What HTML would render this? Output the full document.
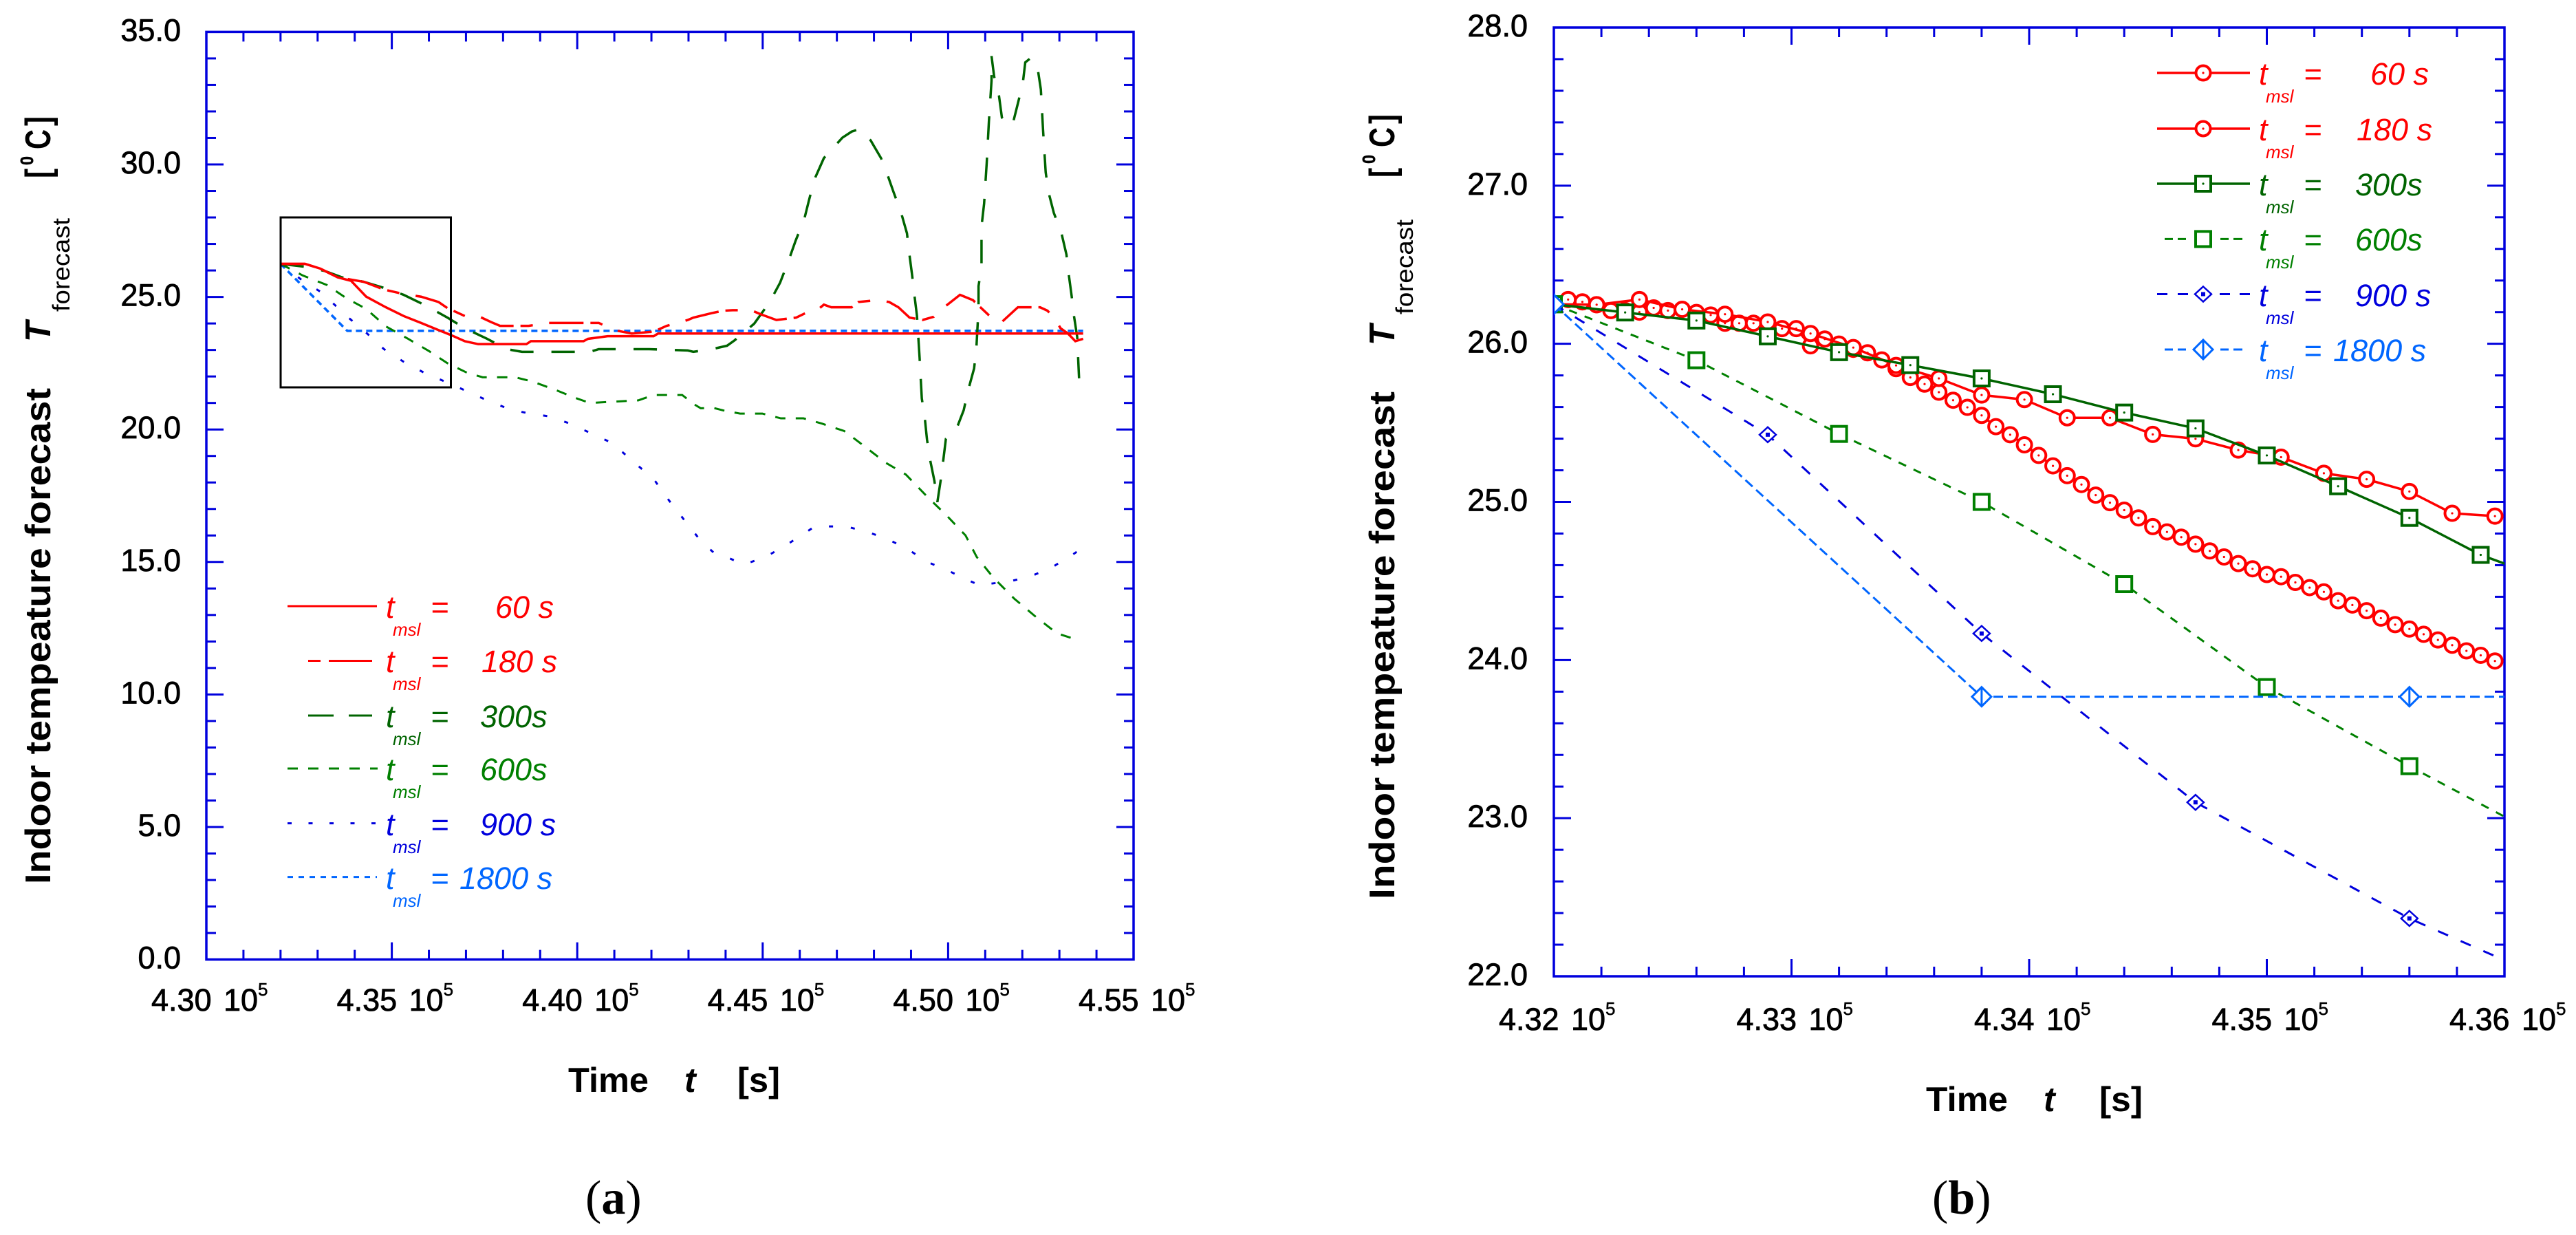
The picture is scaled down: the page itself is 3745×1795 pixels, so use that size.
<!DOCTYPE html>
<html lang="en">
<head>
<meta charset="utf-8">
<title>Indoor temperature forecast charts</title>
<style>
html,body{margin:0;padding:0;background:#fff;width:3745px;height:1795px;overflow:hidden}
svg{display:block}
text{font-family:"Liberation Sans",sans-serif;fill:#000}
.tick{font-size:45px;stroke:#000;stroke-width:.8px}
.sup{font-size:26px;stroke:#000;stroke-width:.5px}
.title{font-size:52px;font-weight:bold}
.xt{font-size:50px;font-weight:bold}
.sub{font-size:35px}
.cap{font-family:"Liberation Serif",serif;font-size:70px}
.lg{font-size:45px;font-style:italic}
.ms{font-size:26px;font-style:italic}
</style>
</head>
<body>
<svg id="fig" xmlns="http://www.w3.org/2000/svg" width="3745" height="1795" viewBox="0 0 3745 1795">
<rect width="3745" height="1795" fill="#fff"/>
<defs>
<clipPath id="clip-b"><rect x="2259" y="40" width="1382" height="1379"/></clipPath>
</defs>

<!-- Panel A titles -->
<g>
<text class="title" transform="translate(73,1285) rotate(-90)" textLength="721" lengthAdjust="spacingAndGlyphs">Indoor tempeature forecast</text>
<text class="title" font-style="italic" transform="translate(73,497) rotate(-90)" textLength="30" lengthAdjust="spacingAndGlyphs">T</text>
<text class="sub" transform="translate(101,453) rotate(-90)" textLength="136" lengthAdjust="spacingAndGlyphs">forecast</text>
<text class="title" transform="translate(73,259) rotate(-90)" textLength="14" lengthAdjust="spacingAndGlyphs">[</text>
<text class="sup" font-weight="bold" transform="translate(48,240) rotate(-90)" textLength="13" lengthAdjust="spacingAndGlyphs">0</text>
<text class="title" transform="translate(73,217) rotate(-90)" textLength="29" lengthAdjust="spacingAndGlyphs">C</text>
<text class="title" transform="translate(73,183) rotate(-90)" textLength="14" lengthAdjust="spacingAndGlyphs">]</text>
<text class="xt" x="826" y="1587" textLength="117" lengthAdjust="spacingAndGlyphs">Time</text>
<text class="xt" font-style="italic" x="995" y="1587">t</text>
<text class="xt" x="1072" y="1587" textLength="62" lengthAdjust="spacingAndGlyphs">[s]</text>
<text class="cap" x="851" y="1764">(<tspan font-weight="bold">a</tspan>)</text>
</g>

<!-- Panel B titles -->
<g>
<text class="title" transform="translate(2027,1307) rotate(-90)" textLength="738" lengthAdjust="spacingAndGlyphs">Indoor tempeature forecast</text>
<text class="title" font-style="italic" transform="translate(2027,502) rotate(-90)" textLength="30" lengthAdjust="spacingAndGlyphs">T</text>
<text class="sub" transform="translate(2054,457) rotate(-90)" textLength="138" lengthAdjust="spacingAndGlyphs">forecast</text>
<text class="title" transform="translate(2027,258) rotate(-90)" textLength="14" lengthAdjust="spacingAndGlyphs">[</text>
<text class="sup" font-weight="bold" transform="translate(1999,238) rotate(-90)" textLength="13" lengthAdjust="spacingAndGlyphs">0</text>
<text class="title" transform="translate(2027,214) rotate(-90)" textLength="29" lengthAdjust="spacingAndGlyphs">C</text>
<text class="title" transform="translate(2027,180) rotate(-90)" textLength="14" lengthAdjust="spacingAndGlyphs">]</text>
<text class="xt" x="2800" y="1615" textLength="119" lengthAdjust="spacingAndGlyphs">Time</text>
<text class="xt" font-style="italic" x="2971" y="1615">t</text>
<text class="xt" x="3052" y="1615" textLength="63" lengthAdjust="spacingAndGlyphs">[s]</text>
<text class="cap" x="2809" y="1764">(<tspan font-weight="bold">b</tspan>)</text>
</g>

<g id="layer-a"></g>
<g id="layer-b"></g>

<!-- Zoom box in panel A -->
<rect x="408" y="316" width="247.5" height="247" fill="none" stroke="#000" stroke-width="3"/>

<!-- Legend A -->
<g>
<g fill="#ff0000">
<line x1="418" x2="548" y1="881" y2="881" stroke="#ff0000" stroke-width="3"/>
<text class="lg" style="fill:#ff0000" x="561" y="898">t</text><text class="ms" style="fill:#ff0000" x="571" y="924">msl</text><text class="lg" style="fill:#ff0000" x="626" y="898">=</text><text class="lg" style="fill:#ff0000" x="720" y="898">60 s</text>
</g>
<g>
<line x1="448" x2="541" y1="960.5" y2="960.5" stroke="#ff0000" stroke-width="3" stroke-dasharray="18 12 63 0"/>
<text class="lg" style="fill:#ff0000" x="561" y="977">t</text><text class="ms" style="fill:#ff0000" x="571" y="1003">msl</text><text class="lg" style="fill:#ff0000" x="626" y="977">=</text><text class="lg" style="fill:#ff0000" x="700" y="977">180 s</text>
</g>
<g>
<line x1="448" x2="541" y1="1040" y2="1040" stroke="#006400" stroke-width="3" stroke-dasharray="37 22 34 0"/>
<text class="lg" style="fill:#006400" x="561" y="1057">t</text><text class="ms" style="fill:#006400" x="571" y="1083">msl</text><text class="lg" style="fill:#006400" x="626" y="1057">=</text><text class="lg" style="fill:#006400" x="698" y="1057">300s</text>
</g>
<g>
<line x1="418" x2="549" y1="1117" y2="1117" stroke="#008000" stroke-width="3" stroke-dasharray="15 15"/>
<text class="lg" style="fill:#008000" x="561" y="1134">t</text><text class="ms" style="fill:#008000" x="571" y="1160">msl</text><text class="lg" style="fill:#008000" x="626" y="1134">=</text><text class="lg" style="fill:#008000" x="698" y="1134">600s</text>
</g>
<g>
<line x1="418" x2="546" y1="1196.6" y2="1196.6" stroke="#0000dd" stroke-width="3" stroke-dasharray="6 24.5"/>
<text class="lg" style="fill:#0000dd" x="561" y="1214">t</text><text class="ms" style="fill:#0000dd" x="571" y="1240">msl</text><text class="lg" style="fill:#0000dd" x="626" y="1214">=</text><text class="lg" style="fill:#0000dd" x="698" y="1214">900 s</text>
</g>
<g>
<line x1="418" x2="548" y1="1274.6" y2="1274.6" stroke="#0066ff" stroke-width="3" stroke-dasharray="8 8"/>
<text class="lg" style="fill:#0066ff" x="561" y="1292">t</text><text class="ms" style="fill:#0066ff" x="571" y="1318">msl</text><text class="lg" style="fill:#0066ff" x="626" y="1292">=</text><text class="lg" style="fill:#0066ff" x="668" y="1292">1800 s</text>
</g>
</g>

<!-- Legend B -->
<g id="legend-b">
<g>
<line x1="3136" x2="3271" y1="106" y2="106" stroke="#ff0000" stroke-width="3.5"/>
<text class="lg" style="fill:#ff0000" x="3284" y="123">t</text><text class="ms" style="fill:#ff0000" x="3294" y="149">msl</text><text class="lg" style="fill:#ff0000" x="3349" y="123">=</text><text class="lg" style="fill:#ff0000" x="3446" y="123">60 s</text>
</g>
<g>
<line x1="3136" x2="3271" y1="187" y2="187" stroke="#ff0000" stroke-width="3.5"/>
<text class="lg" style="fill:#ff0000" x="3284" y="204">t</text><text class="ms" style="fill:#ff0000" x="3294" y="230">msl</text><text class="lg" style="fill:#ff0000" x="3349" y="204">=</text><text class="lg" style="fill:#ff0000" x="3426" y="204">180 s</text>
</g>
<g>
<line x1="3136" x2="3271" y1="267" y2="267" stroke="#006400" stroke-width="3.5"/>
<text class="lg" style="fill:#006400" x="3284" y="284">t</text><text class="ms" style="fill:#006400" x="3294" y="310">msl</text><text class="lg" style="fill:#006400" x="3349" y="284">=</text><text class="lg" style="fill:#006400" x="3424" y="284">300s</text>
</g>
<g>
<line x1="3147" x2="3260" y1="347.4" y2="347.4" stroke="#008000" stroke-width="3" stroke-dasharray="12 7 12 50 12 7 13"/>
<text class="lg" style="fill:#008000" x="3284" y="364">t</text><text class="ms" style="fill:#008000" x="3294" y="390">msl</text><text class="lg" style="fill:#008000" x="3349" y="364">=</text><text class="lg" style="fill:#008000" x="3424" y="364">600s</text>
</g>
<g>
<line x1="3136" x2="3271" y1="427.5" y2="427.5" stroke="#0000dd" stroke-width="3" stroke-dasharray="15 15 15 46 15 14 15"/>
<text class="lg" style="fill:#0000dd" x="3284" y="445">t</text><text class="ms" style="fill:#0000dd" x="3294" y="471">msl</text><text class="lg" style="fill:#0000dd" x="3349" y="445">=</text><text class="lg" style="fill:#0000dd" x="3424" y="445">900 s</text>
</g>
<g>
<line x1="3147" x2="3260" y1="508" y2="508" stroke="#0066ff" stroke-width="3" stroke-dasharray="12 7 12 50 12 7 13"/>
<text class="lg" style="fill:#0066ff" x="3284" y="525">t</text><text class="ms" style="fill:#0066ff" x="3294" y="551">msl</text><text class="lg" style="fill:#0066ff" x="3349" y="525">=</text><text class="lg" style="fill:#0066ff" x="3392" y="525">1800 s</text>
</g>
</g>
</svg>

<script>
// ---------- Panel A data (time in units of 10^5 s, temperature in deg C) ----------
const aXTicks = [4.30, 4.35, 4.40, 4.45, 4.50, 4.55];
const aXLabels = ['4.30', '4.35', '4.40', '4.45', '4.50', '4.55'];
const aYTicks = [0, 5, 10, 15, 20, 25, 30, 35];
const aYLabels = ['0.0', '5.0', '10.0', '15.0', '20.0', '25.0', '30.0', '35.0'];

const a60T = [4.32,4.3266,4.3307,4.3354,4.3390,4.3431,4.3484,4.3532,4.3579,4.3626,4.3660,4.3697,4.3733,4.3863,4.3875,4.4017,4.4029,4.4082,4.4206,4.4218,4.5364];
const a60V = [26.25,26.25,26.07,25.74,25.61,25.01,24.61,24.28,24.02,23.75,23.56,23.33,23.22,23.22,23.33,23.33,23.42,23.52,23.52,23.62,23.62];

const a180T = [4.32,4.3266,4.3307,4.3354,4.3425,4.3479,4.3532,4.3579,4.3626,4.3650,4.3697,4.3733,4.3768,4.3792,4.3869,4.3922,4.4058,4.4099,4.4147,4.4206,4.4241,4.4298,4.4313,4.4363,4.4393,4.4419,4.4469,4.4494,4.4537,4.4590,4.4620,4.4645,4.4665,4.4685,4.4740,4.4758,4.4811,4.4841,4.4866,4.4896,4.4931,4.4961,4.4981,4.5032,4.5067,4.5087,4.5122,4.5142,4.5188,4.5203,4.5248,4.5268,4.5288,4.5303,4.5323,4.5343,4.5364];
const a180V = [26.25,26.25,26.07,25.74,25.57,25.28,25.11,25.01,24.81,24.58,24.28,24.28,24.05,23.91,23.91,24.02,24.02,23.75,23.62,23.69,23.91,24.13,24.22,24.39,24.48,24.50,24.50,24.35,24.13,24.22,24.42,24.48,24.71,24.61,24.61,24.81,24.88,24.81,24.61,24.22,24.13,24.25,24.52,25.08,24.88,24.61,24.15,24.02,24.61,24.61,24.61,24.48,24.18,23.82,23.62,23.33,23.42];

const a300T = [4.32,4.3266,4.3319,4.3366,4.3425,4.3479,4.3532,4.3591,4.3650,4.3697,4.3757,4.3810,4.3851,4.4034,4.4058,4.4194,4.4298,4.4313,4.4363,4.4404,4.4424,4.4477,4.4519,4.4547,4.4569,4.4589,4.4612,4.4625,4.4640,4.4665,4.4715,4.4740,4.4760,4.4791,4.4819,4.4833,4.4853,4.4873,4.4889,4.4895,4.4903,4.4909,4.4916,4.4923,4.4929,4.4937,4.4943,4.4951,4.4963,4.4971,4.4980,4.4987,4.4994,4.5022,4.5042,4.5054,4.5070,4.5076,4.5082,4.5082,4.5090,4.5090,4.5097,4.5104,4.5110,4.5117,4.5117,4.5124,4.5137,4.5145,4.5173,4.5188,4.5201,4.5208,4.5223,4.5241,4.5250,4.5256,4.5263,4.5270,4.5285,4.5305,4.5319,4.5325,4.5333,4.5339,4.5348,4.5353];
const a300V = [26.25,26.14,25.98,25.74,25.57,25.34,25.08,24.68,24.22,23.82,23.42,23.03,22.93,22.93,23.03,23.03,22.98,22.93,23.03,23.16,23.36,23.99,24.81,25.54,26.34,27.13,27.93,28.66,29.45,30.24,31.01,31.24,31.33,30.91,30.24,29.75,28.95,28.19,27.40,26.67,25.81,25.08,24.28,22.72,21.17,20.44,19.62,18.88,18.06,17.26,18.09,18.85,19.65,20.00,20.73,21.48,22.30,23.03,24.58,25.41,26.14,27.66,28.52,30.05,31.64,33.16,34.09,33.32,32.60,31.77,31.46,32.30,33.03,33.85,34.02,33.66,32.83,31.28,29.71,28.99,28.17,27.44,26.60,25.87,25.04,24.31,23.49,21.93];

const a600T = [4.32,4.3260,4.3325,4.3378,4.3431,4.3484,4.3544,4.3600,4.3650,4.3703,4.3745,4.3833,4.3881,4.3940,4.3993,4.4034,4.4165,4.4206,4.4283,4.4313,4.4333,4.4368,4.4399,4.4439,4.4499,4.4549,4.4610,4.4660,4.4720,4.4775,4.4831,4.4886,4.4941,4.4997,4.5047,4.5077,4.5122,4.5178,4.5233,4.5293,4.5348];
const a600V = [26.25,25.81,25.45,24.95,24.55,23.89,23.42,22.96,22.50,22.14,21.97,21.97,21.80,21.50,21.20,21.00,21.10,21.30,21.30,20.97,20.80,20.81,20.70,20.60,20.60,20.42,20.42,20.22,19.94,19.36,18.75,18.30,17.50,16.74,16.00,15.19,14.41,13.62,12.97,12.31,12.06];

const a900T = [4.32,4.3260,4.3313,4.3372,4.3428,4.3479,4.3538,4.3593,4.3650,4.3703,4.3757,4.3816,4.3871,4.3922,4.3981,4.4038,4.4094,4.4149,4.4206,4.4247,4.4291,4.4333,4.4368,4.4393,4.4449,4.4504,4.4559,4.4615,4.4640,4.4725,4.4781,4.4836,4.4891,4.4946,4.5002,4.5059,4.5090,4.5114,4.5170,4.5226,4.5278,4.5338,4.5353];
const a900V = [26.25,25.61,25.15,24.35,23.69,23.03,22.50,22.10,21.77,21.44,21.10,20.77,20.60,20.50,20.22,19.85,19.49,18.81,18.13,17.33,16.54,15.80,15.35,15.24,14.91,15.16,15.60,16.10,16.34,16.34,16.14,15.87,15.48,14.99,14.66,14.28,14.09,14.18,14.28,14.48,14.78,15.30,15.44];

const a1800T = [4.32,4.3380,4.5364];
const a1800V = [26.25,23.72,23.72];

// ---------- Panel B data (value per sampling step, starting at 432000 s) ----------
const bXTicks = [4.32, 4.33, 4.34, 4.35, 4.36];
const bXLabels = ['4.32', '4.33', '4.34', '4.35', '4.36'];
const bYTicks = [22, 23, 24, 25, 26, 27, 28];
const bYLabels = ['22.0', '23.0', '24.0', '25.0', '26.0', '27.0', '28.0'];

const b60V = [26.25,26.28,26.265,26.247,26.21,26.21,26.20,26.227,26.21,26.218,26.198,26.182,26.13,26.13,26.13,26.13,26.096,26.096,25.987,26.03,25.998,25.965,25.943,25.898,25.843,25.787,25.745,25.694,25.643,25.598,25.547,25.476,25.425,25.361,25.294,25.228,25.166,25.11,25.043,24.995,24.948,24.899,24.844,24.81,24.777,24.733,24.69,24.652,24.61,24.577,24.541,24.527,24.491,24.458,24.431,24.375,24.348,24.312,24.265,24.224,24.196,24.163,24.127,24.094,24.058,24.03,23.994];
const b180V = [26.25,26.247,26.28,26.218,26.187,26.138,26.065,25.976,25.863,25.781,25.676,25.647,25.532,25.532,25.427,25.399,25.328,25.283,25.181,25.143,25.066,24.928,24.91];
const b300V = [26.25,26.198,26.147,26.047,25.947,25.865,25.781,25.681,25.565,25.465,25.294,25.099,24.899,24.665,24.50];
const b600V = [26.25,25.896,25.43,25.0,24.48,23.829,23.329,22.85];
const b900V = [26.25,25.425,24.168,23.10,22.366,21.77];
const b1800V = [26.25,23.768,23.768,23.768];

const SVGNS = 'http://www.w3.org/2000/svg';
const AXIS = '#0000dd';

function linear(d0, d1, r0, r1) {
  return function (v) { return r0 + (v - d0) / (d1 - d0) * (r1 - r0); };
}
function mk(tag, parent, attrs) {
  const el = document.createElementNS(SVGNS, tag);
  for (const k in attrs) el.setAttribute(k, attrs[k]);
  parent.appendChild(el);
  return el;
}

function drawAxes(parent, cfg) {
  const x = cfg.x, y = cfg.y;
  const g = mk('g', parent, {});
  
  
  const L = x(cfg.xMin), R = x(cfg.xMax), T = y(cfg.yMax), B = y(cfg.yMin);

  const nx = Math.round((cfg.xMax - cfg.xMin) / cfg.xMinor);
  for (let i = 1; i < nx; i++) {
    const major = i % cfg.xEvery === 0;
    const len = major ? 25 : 14;
    const px = x(cfg.xMin + i * cfg.xMinor);
    const t1 = mk('line', g, {x1: px, x2: px, y1: B, y2: B - len, stroke: AXIS, 'stroke-width': 3});
    
    
    const t2 = mk('line', g, {x1: px, x2: px, y1: T, y2: T + len, stroke: AXIS, 'stroke-width': 3});
    
    
  }
  const ny = Math.round((cfg.yMax - cfg.yMin) / cfg.yMinor);
  for (let i = 1; i < ny; i++) {
    const major = i % cfg.yEvery === 0;
    const len = major ? 25 : 14;
    const py = y(cfg.yMin + i * cfg.yMinor);
    const t1 = mk('line', g, {x1: L, x2: L + len, y1: py, y2: py, stroke: AXIS, 'stroke-width': 3});
    
    
    const t2 = mk('line', g, {x1: R, x2: R - len, y1: py, y2: py, stroke: AXIS, 'stroke-width': 3});
    
    
  }
  const frame = mk('rect', g, {x: L, y: T, width: R - L, height: B - T, fill: 'none', stroke: AXIS, 'stroke-width': 3.5});
  
  

  cfg.xTicks.forEach(function (v, i) {
    const px = x(v);
    const t = mk('text', g, {x: px - 80, y: cfg.xBase, class: 'tick'});
    t.textContent = cfg.xLabels[i];
    
    
    const t2 = mk('text', g, {x: px + 25, y: cfg.xBase, class: 'tick'});
    t2.textContent = '10';
    
    
    const t3 = mk('text', g, {x: px + 75, y: cfg.xBase - 22, class: 'sup'});
    t3.textContent = '5';
    
    
  });
  cfg.yTicks.forEach(function (v, i) {
    const t = mk('text', g, {x: cfg.yRight, y: y(v) + 13, 'text-anchor': 'end', class: 'tick'});
    t.textContent = cfg.yLabels[i];
    
    
  });
}

function drawLine(parent, name, ts, vs, x, y, color, width, dash) {
  const pts = ts.map(function (t, i) { return x(t).toFixed(2) + ',' + y(vs[i]).toFixed(2); }).join(' ');
  const attrs = {points: pts, fill: 'none', stroke: color, 'stroke-width': width, 'stroke-linejoin': 'miter'};
  if (dash) attrs['stroke-dasharray'] = dash;
  const el = mk('polyline', parent, attrs);
  
  
  return el;
}

function drawMarker(parent, kind, px, py, color) {
  const g = mk('g', parent, {});
  
  
  if (kind === 'circle') {
    mk('circle', g, {cx: px, cy: py, r: 10.5, fill: '#fff', stroke: color, 'stroke-width': 4});
    mk('circle', g, {cx: px, cy: py, r: 1.6, fill: color});
  } else if (kind === 'square-dot' || kind === 'square') {
    mk('rect', g, {x: px - 11, y: py - 11, width: 22, height: 22, fill: '#fff', stroke: color, 'stroke-width': 4});
    if (kind === 'square-dot') mk('circle', g, {cx: px, cy: py, r: 1.6, fill: color});
  } else if (kind === 'diamond-small') {
    mk('polygon', g, {points: [px, py - 11, px + 12, py, px, py + 11, px - 12, py].join(','), fill: '#fff', stroke: color, 'stroke-width': 2.5});
    mk('rect', g, {x: px - 3, y: py - 3, width: 6, height: 6, fill: color});
  } else {
    mk('polygon', g, {points: [px, py - 14, px + 14, py, px, py + 14, px - 14, py].join(','), fill: '#fff', stroke: color, 'stroke-width': 3});
    mk('line', g, {x1: px, x2: px, y1: py - 14, y2: py + 14, stroke: color, 'stroke-width': 3});
  }
}

// ---------- Panel A ----------
(function () {
  const layer = document.getElementById('layer-a');
  const x = linear(4.30, 4.55, 300, 1648);
  const y = linear(0, 35, 1394.6, 46.4);
  drawAxes(layer, {x: x, y: y, xMin: 4.30, xMax: 4.55, yMin: 0, yMax: 35, xMinor: 0.01, xEvery: 5, yMinor: 1, yEvery: 5,
    xTicks: aXTicks, xLabels: aXLabels, yTicks: aYTicks, yLabels: aYLabels, xBase: 1469, yRight: 263});
  drawLine(layer, 'series-a-1800', a1800T, a1800V, x, y, '#0066ff', 3.5, '9 6');
  drawLine(layer, 'series-a-900', a900T, a900V, x, y, '#0000dd', 3, '6 26');
  drawLine(layer, 'series-a-600', a600T, a600V, x, y, '#008000', 3, '15 15');
  drawLine(layer, 'series-a-300', a300T, a300V, x, y, '#006400', 3.5, '34 26');
  drawLine(layer, 'series-a-180', a180T, a180V, x, y, '#ff0000', 3.5, '50 10 18 24');
  drawLine(layer, 'series-a-60', a60T, a60V, x, y, '#ff0000', 3.5, null);
})();

// ---------- Panel B ----------
(function () {
  const layer = document.getElementById('layer-b');
  const x = linear(4.32, 4.36, 2259, 3641);
  const y = linear(22, 28, 1419, 40);
  drawAxes(layer, {x: x, y: y, xMin: 4.32, xMax: 4.36, yMin: 22, yMax: 28, xMinor: 0.002, xEvery: 5, yMinor: 0.2, yEvery: 5,
    xTicks: bXTicks, xLabels: bXLabels, yTicks: bYTicks, yLabels: bYLabels, xBase: 1497, yRight: 2221});

  const plot = mk('g', layer, {'clip-path': 'url(#clip-b)'});
  
  

  function series(name, vals, stepSeconds, color, width, dash, marker) {
    const ts = vals.map(function (_, i) { return 4.32 + i * stepSeconds / 100000; });
    drawLine(plot, 'series-b-' + name, ts, vals, x, y, color, width, dash);
    ts.forEach(function (t, i) { drawMarker(plot, marker, x(t), y(vals[i]), color); });
  }
  series('60', b60V, 60, '#ff0000', 3.5, null, 'circle');
  series('180', b180V, 180, '#ff0000', 3.5, null, 'circle');
  series('300', b300V, 300, '#006400', 3.5, null, 'square-dot');
  series('600', b600V, 600, '#008000', 3, '12 12', 'square');
  series('900', b900V, 900, '#0000dd', 3, '16 20', 'diamond-small');
  series('1800', b1800V, 1800, '#0066ff', 3, '14 7', 'diamond-bar');

  const legend = document.getElementById('legend-b');
  drawMarker(legend, 'circle', 3203, 106, '#ff0000');
  drawMarker(legend, 'circle', 3203, 187, '#ff0000');
  drawMarker(legend, 'square-dot', 3203, 267, '#006400');
  drawMarker(legend, 'square', 3203, 347.4, '#008000');
  drawMarker(legend, 'diamond-small', 3203, 427.5, '#0000dd');
  drawMarker(legend, 'diamond-bar', 3203, 508, '#0066ff');
})();
</script>
</body>
</html>
